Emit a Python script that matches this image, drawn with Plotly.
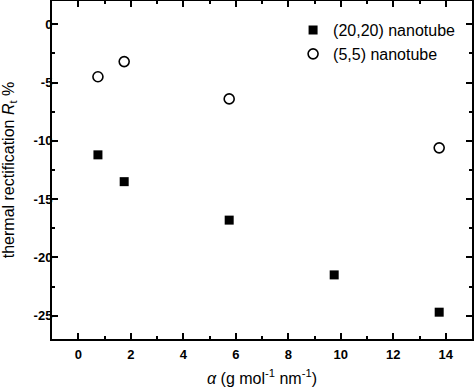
import plotly.graph_objects as go

alpha_2020 = [0.75, 1.75, 5.75, 9.75, 13.75]
rect_2020 = [-11.2, -13.5, -16.8, -21.5, -24.7]
alpha_55 = [0.75, 1.75, 5.75, 13.75]
rect_55 = [-4.5, -3.2, -6.4, -10.6]
x_ticks = [0, 2, 4, 6, 8, 10, 12, 14]
y_ticks = [0, -5, -10, -15, -20, -25]

fig = go.Figure()
fig.add_trace(go.Scatter(x=alpha_2020, y=rect_2020, mode="markers", name="(20,20) nanotube",
                         marker=dict(symbol="square", size=9, color="black")))
fig.add_trace(go.Scatter(x=alpha_55, y=rect_55, mode="markers", name="(5,5) nanotube",
                         marker=dict(symbol="circle-open", size=10, color="black", line=dict(width=1.6))))

tick_font = dict(family="Liberation Sans", size=13, color="black")
axis_common = dict(showline=True, linecolor="black", linewidth=2, mirror="allticks",
                   ticks="inside", ticklen=6, tickwidth=2, tickcolor="black",
                   showgrid=False, zeroline=False, automargin=False, tickfont=tick_font)
fig.update_xaxes(range=[-1, 15], tickvals=x_ticks, ticktext=[f"<b>{v}</b>" for v in x_ticks],
                 ticklabelstandoff=2,
                 minor=dict(ticks="inside", ticklen=3, tickwidth=1.5, tickcolor="black", dtick=1, tick0=0),
                 title=dict(text="<i>α</i> (g mol<sup>-1</sup> nm<sup>-1</sup>)", standoff=12,
                            font=dict(family="Liberation Sans", size=16, color="black")),
                 **axis_common)
fig.update_yaxes(range=[-27, 2], tickvals=y_ticks, ticktext=[f"<b>{v}</b>" for v in y_ticks],
                 ticklabelstandoff=-5,
                 minor=dict(ticks="inside", ticklen=3, tickwidth=1.5, tickcolor="black", dtick=2.5, tick0=0),
                 title=dict(text="thermal rectification <i>R</i><sub>t</sub> %", standoff=16,
                            font=dict(family="Liberation Sans", size=16, color="black")),
                 **axis_common)
fig.update_layout(width=474, height=391, margin=dict(l=52, r=2, t=1, b=52),
                  plot_bgcolor="white", paper_bgcolor="white",
                  legend=dict(x=0.574, y=0.964, xanchor="left", yanchor="top", bgcolor="rgba(0,0,0,0)",
                              font=dict(family="Liberation Sans", size=16, color="black"),
                              tracegroupgap=0))
fig.write_html("out.html", config={"displayModeBar": False},
               post_script="document.body.style.margin='0';")
